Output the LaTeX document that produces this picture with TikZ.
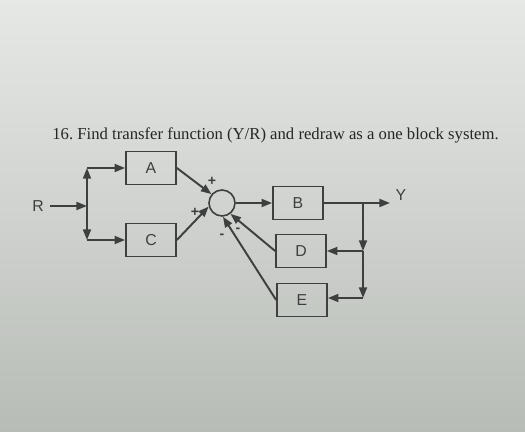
\documentclass[tikz,border=0pt]{standalone}
\usepackage{fontspec}
\setmainfont{Liberation Serif}
\setsansfont{Liberation Sans}
\usepackage{tikz}
\usetikzlibrary{arrows.meta, shapes.geometric}
\definecolor{ink}{RGB}{62,64,64}
\definecolor{papertop}{RGB}{230,232,229}
\definecolor{paperbot}{RGB}{184,188,183}

\begin{document}
\begin{tikzpicture}[x=0.02cm, y=-0.02cm,
    blk/.style={draw=ink, line width=1pt, minimum width=1cm, minimum height=0.66cm, font=\sffamily\small, text=ink},
    sumnode/.style={circle, draw=ink, line width=0.9pt, minimum size=0.52cm, inner sep=0pt},
    sig/.style={draw=ink, line width=1.1pt, -{Triangle[length=6pt,width=4.5pt]}},
    sgn/.style={font=\sffamily\footnotesize\bfseries, text=ink, inner sep=0pt}]
            \useasboundingbox (0,0) rectangle (525,432);
            \shade[top color=papertop, bottom color=paperbot] (0,0) rectangle (525,432);

            \node[anchor=base west, inner sep=0pt, font=\fontsize{9.5}{11}\selectfont, text=black!85] at (52,140) (title)
                {16.\ Find transfer function (Y/R) and redraw as a one block system.};

            \node[blk] at (151,168) (A) {A};
            \node[blk] at (151,240) (C) {C};
            \node[sumnode] at (222,203) (sum) {};
            \node[blk] at (298,203) (B) {B};
            \node[blk] at (301,251) (D) {D};
            \node[blk] at (302,300) (E) {E};

            \node[font=\sffamily\small, text=ink] at (38,206) (R) {R};
            \node[font=\sffamily\small, text=ink] at (401,195) (Y) {Y};

            \coordinate (split) at (87,206);
            \coordinate (sa) at (87,168);
            \coordinate (sc) at (87,240);
            \coordinate (br) at (363,203);
            \coordinate (bd) at (363,251);
            \coordinate (be) at (363,298);
            \coordinate (yout) at (390,203);

            \draw [sig] (R) -- (split);
            \draw [sig] (split) -- (sa);\draw [sig] (split) -- (sc);
            \draw [sig] (sa) -- (A);\draw [sig] (sc) -- (C);
            \draw [sig] (A.east) -- (sum.140);\draw [sig] (C.east) -- (sum.195);
            \draw [sig] (sum) -- (B);
            \draw [sig] (B) -- (yout);
            \draw [sig] (br) -- (bd);\draw [sig] (bd) -- (be);
            \draw [sig] (bd) -- (D);\draw [sig] (be) -- (E.east |- be);
            \draw [sig] (D.west) -- (sum.-52);\draw [sig] (E.west) -- (sum.-86);

            \node[sgn] at (212,181) (pa) {+};
            \node[sgn] at (195,212) (pc) {+};
            \node[sgn] at (238,230) (md) {-};
            \node[sgn] at (222,236) (me) {-};
        \end{tikzpicture}
\end{document}
